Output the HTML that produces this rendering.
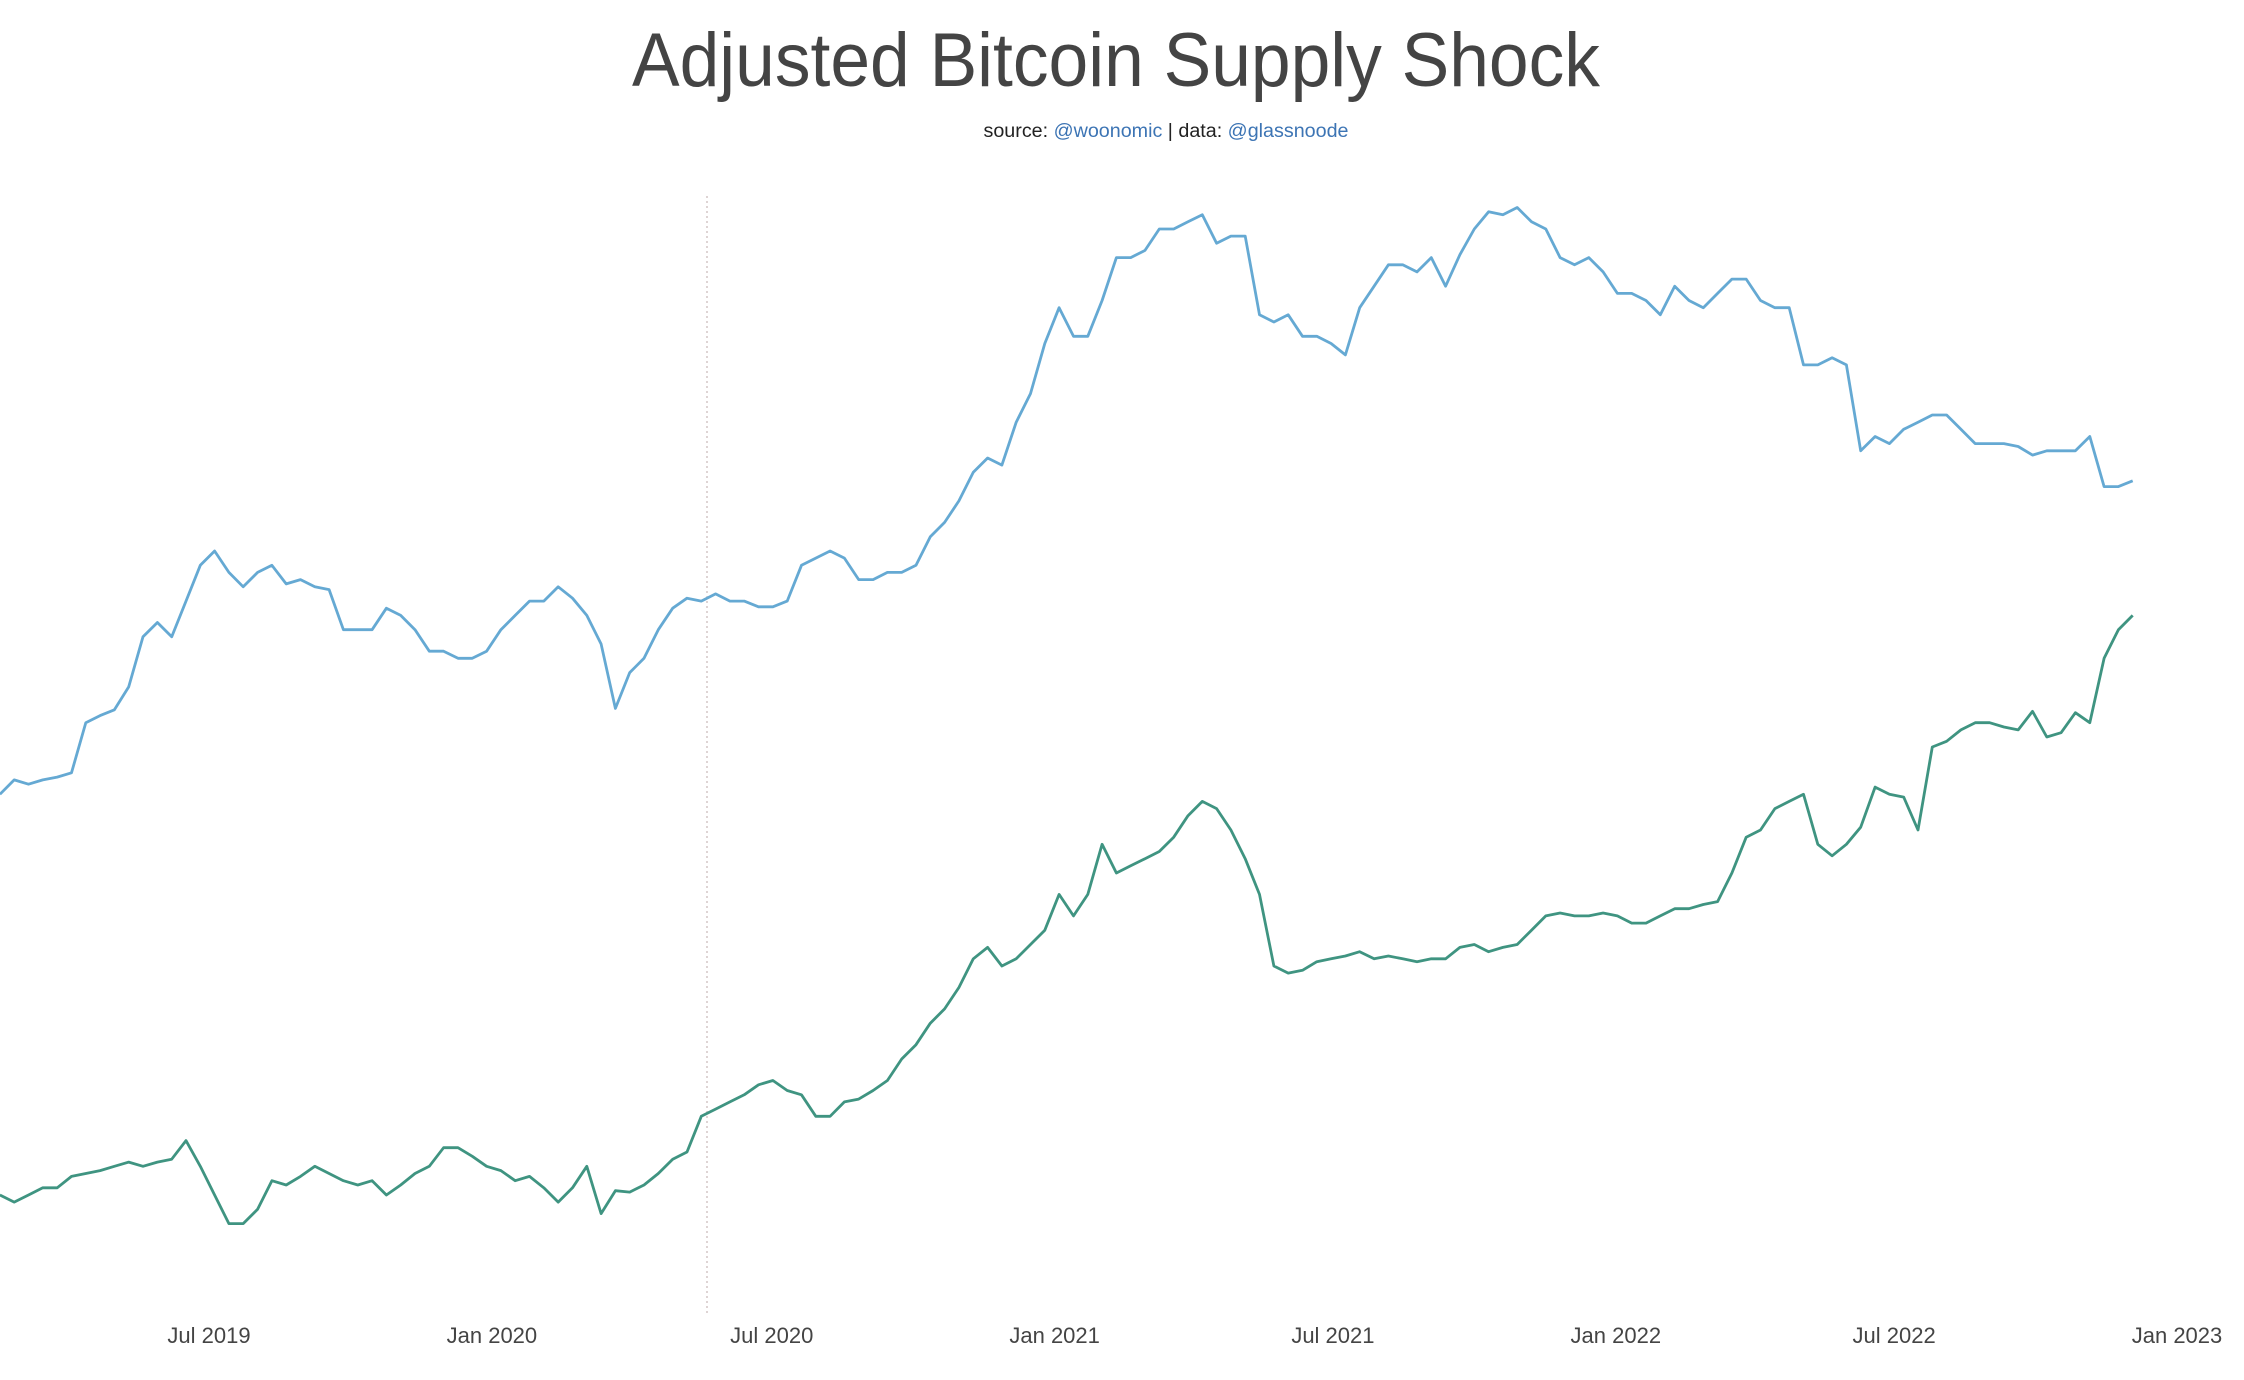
<!DOCTYPE html>
<html><head><meta charset="utf-8"><style>
html,body{margin:0;padding:0;background:#fff;}
svg{display:block;font-family:"Liberation Sans",sans-serif;}
</style></head><body>
<svg id="chart" width="2244" height="1380" viewBox="0 0 2244 1380" xmlns="http://www.w3.org/2000/svg">
<text x="1116" y="86" text-anchor="middle" font-size="76" fill="#444" font-weight="300" textLength="968" lengthAdjust="spacingAndGlyphs">Adjusted Bitcoin Supply Shock</text>
<text x="1166" y="137" text-anchor="middle" font-size="19" fill="#222" textLength="365" lengthAdjust="spacingAndGlyphs">source: <tspan fill="#3c74b4">@woonomic</tspan> | data: <tspan fill="#3c74b4">@glassnoode</tspan></text>
<line x1="707" y1="196" x2="707" y2="1316" stroke="#c8b8b8" stroke-width="1.2" stroke-dasharray="2,3"/>
<g id="xaxis"></g>
<g id="series"></g>
</svg>
<script>
// day offsets relative to 2019-07-01
const tickLabels = ["Jul 2019","Jan 2020","Jul 2020","Jan 2021","Jul 2021","Jan 2022","Jul 2022","Jan 2023"];
const tickDays = [0,184,366,550,731,915,1096,1280];
const startDay = -136;
const stepDays = 9.31;
const blueValues = [445,455,452,455,457,460,495,500,504,520,
555,565,555,580,605,615,600,590,600,605,
592,595,590,588,560,560,560,575,570,560,
545,545,540,540,545,560,570,580,580,590,
582,570,550,505,530,540,560,575,582,580,
585,580,580,576,576,580,605,610,615,610,
595,595,600,600,605,625,635,650,670,680,
675,705,725,760,785,765,765,790,820,820,
825,840,840,845,850,830,835,835,780,775,
780,765,765,760,752,785,800,815,815,810,
820,800,822,840,852,850,855,845,840,820,
815,820,810,795,795,790,780,800,790,785,
795,805,805,790,785,785,745,745,750,745,
685,695,690,700,705,710,710,700,690,690,
690,688,682,685,685,685,695,660,660,664];
const greenValues = [165,160,165,170,170,178,180,182,185,188,
185,188,190,203,185,165,145,145,155,175,
172,178,185,180,175,172,175,165,172,180,
185,198,198,192,185,182,175,178,170,160,
170,185,152,168,167,172,180,190,195,220,
225,230,235,242,245,238,235,220,220,230,
232,238,245,260,270,285,295,310,330,338,
325,330,340,350,375,360,375,410,390,395,
400,405,415,430,440,435,420,400,375,325,
320,322,328,330,332,335,330,332,330,328,
330,330,338,340,335,338,340,350,360,362,
360,360,362,360,355,355,360,365,365,368,
370,390,415,420,435,440,445,410,402,410,
422,450,445,443,420,478,482,490,495,495,
492,490,503,485,488,502,495,540,560,570];

const NS = "http://www.w3.org/2000/svg";
function xScale(day){ return 209 + day * 1.5375; }
function yScale(v){ return (1000 - v) * 1.4311; }

const xaxis = document.getElementById('xaxis');
tickLabels.forEach((lab,i)=>{
  const t = document.createElementNS(NS,'text');
  
  
  t.setAttribute('x', xScale(tickDays[i]));
  t.setAttribute('y', 1343);
  t.setAttribute('text-anchor','middle');
  t.setAttribute('font-size','22');
  t.setAttribute('fill','#444');
  t.textContent = lab;
  xaxis.appendChild(t);
});

function drawLine(vals, color, name){
  const d = vals.map((v,i)=>(i?'L':'M') + xScale(startDay + i*stepDays).toFixed(1) + ',' + yScale(v).toFixed(1)).join(' ');
  const p = document.createElementNS(NS,'path');
  
  
  p.setAttribute('d', d);
  p.setAttribute('fill','none');
  p.setAttribute('stroke', color);
  p.setAttribute('stroke-width','2.8');
  p.setAttribute('stroke-linejoin','round');
  document.getElementById('series').appendChild(p);
}
drawLine(blueValues, '#65a9d3', 'blue-series-line');
drawLine(greenValues, '#3f9481', 'green-series-line');
</script>
</body></html>
